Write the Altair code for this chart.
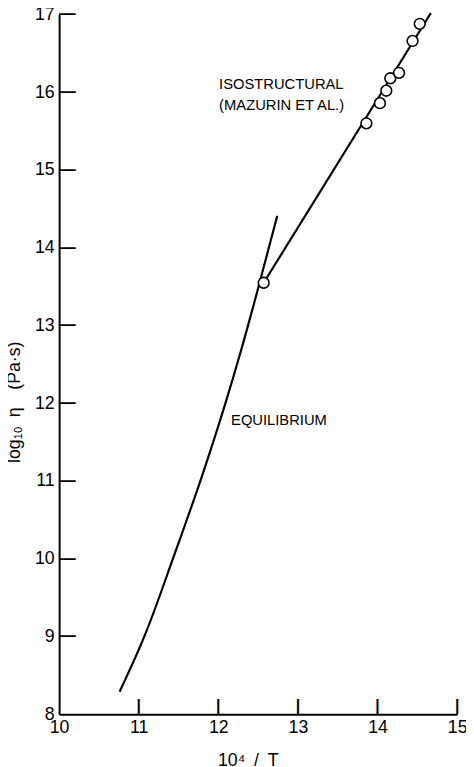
import altair as alt
import pandas as pd

# Equilibrium viscosity curve
eq_x = [10.76, 11.09, 11.44, 11.80, 12.08, 12.28, 12.49, 12.74]
eq_y = [8.29, 9.05, 10.03, 11.08, 11.97, 12.66, 13.44, 14.41]

# Isostructural line
iso_x = [12.57, 14.67]
iso_y = [13.55, 17.02]

# Data points (open circles)
pt_x = [12.57, 13.86, 14.03, 14.11, 14.16, 14.27, 14.44, 14.53]
pt_y = [13.55, 15.60, 15.86, 16.02, 16.18, 16.25, 16.66, 16.88]

# Axis ticks
x_ticks = [10, 11, 12, 13, 14, 15]
y_ticks = [8, 9, 10, 11, 12, 13, 14, 15, 16, 17]

# Annotations
ann_text = ["ISOSTRUCTURAL", "(MAZURIN ET AL.)", "EQUILIBRIUM"]
ann_x = [12.01, 12.01, 12.16]
ann_y = [16.10, 15.84, 11.78]

W, H = 405, 712
FONT = "Liberation Sans"
SP = "\u2002"

eq_df = pd.DataFrame({"x": eq_x, "y": eq_y})
iso_df = pd.DataFrame({"x": iso_x, "y": iso_y})
pt_df = pd.DataFrame({"x": pt_x, "y": pt_y})
ann_df = pd.DataFrame({"x": ann_x, "y": ann_y, "t": ann_text})
xt_df = pd.DataFrame({"v": x_ticks[1:], "base": [y_ticks[0]] * (len(x_ticks) - 1)})
yt_df = pd.DataFrame({"v": y_ticks[1:], "base": [x_ticks[0]] * (len(y_ticks) - 1)})

xscale = alt.Scale(domain=[10, 15], nice=False, zero=False)
yscale = alt.Scale(domain=[8, 17], nice=False, zero=False)

xaxis = alt.Axis(
    values=x_ticks, format="d", ticks=False, grid=False, domainColor="black", domainWidth=2,
    labelFont=FONT, labelFontSize=18, labelColor="black", labelPadding=5,
    labelBaseline="top", labelFlush=False, labelOverlap=False,
    title="10⁴" + SP + "/" + SP + "T", titleFont=FONT, titleFontSize=18,
    titleFontWeight="normal", titleColor="black",
    titleX=192, titleY=38, titleBaseline="top", titleAlign="center",
)
yaxis = alt.Axis(
    values=y_ticks, format="d", ticks=False, grid=False, domainColor="black", domainWidth=2,
    labelFont=FONT, labelFontSize=18, labelColor="black", labelPadding=5,
    labelFlush=False, labelOverlap=False,
    title="log₁₀" + SP + "η" + SP + SP + "(Pa·s)", titleFont=FONT, titleFontSize=18,
    titleFontWeight="normal", titleColor="black",
    titleX=-36, titleY=394, titleAngle=270, titleBaseline="bottom", titleAlign="center",
)

eq_line = alt.Chart(eq_df).mark_line(
    color="black", strokeWidth=2.2, interpolate="monotone"
).encode(
    x=alt.X("x:Q", scale=xscale, axis=xaxis),
    y=alt.Y("y:Q", scale=yscale, axis=yaxis),
)

iso_line = alt.Chart(iso_df).mark_line(color="black", strokeWidth=2.2).encode(
    x=alt.X("x:Q", scale=xscale),
    y=alt.Y("y:Q", scale=yscale),
)

points = alt.Chart(pt_df).mark_point(
    shape="circle", size=120, filled=True, fill="white", stroke="black",
    strokeWidth=1.6, opacity=1,
).encode(
    x=alt.X("x:Q", scale=xscale),
    y=alt.Y("y:Q", scale=yscale),
)

labels = alt.Chart(ann_df).mark_text(
    align="left", baseline="middle", font=FONT, fontSize=15, color="black"
).encode(
    x=alt.X("x:Q", scale=xscale),
    y=alt.Y("y:Q", scale=yscale),
    text="t:N",
)

# Inward tick marks drawn as glyphs anchored on the axes through the scales:
# a vertical bar standing on the x axis, an em dash leaning on the y axis.
xticks = alt.Chart(xt_df).mark_text(
    text="|", font=FONT, fontSize=16, fontWeight="bold", color="black",
    align="center", baseline="bottom",
).encode(
    x=alt.X("v:Q", scale=xscale),
    y=alt.Y("base:Q", scale=yscale),
)

yticks = alt.Chart(yt_df).mark_text(
    text="\u2014", font=FONT, fontSize=17, fontWeight="bold", color="black",
    align="left", baseline="middle",
).encode(
    x=alt.X("base:Q", scale=xscale),
    y=alt.Y("v:Q", scale=yscale),
)

chart = alt.layer(eq_line, iso_line, points, labels, xticks, yticks).properties(
    width=W, height=H,
    autosize=alt.AutoSizeParams(type="none"),
    padding={"left": 52, "top": 0, "right": 9, "bottom": 47},
    background="white",
).configure_view(stroke=None)

chart.save("out.html", embed_options={"renderer": "svg", "actions": False})
